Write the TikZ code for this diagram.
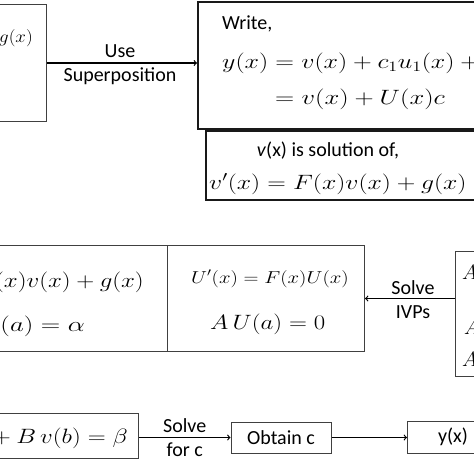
\documentclass[tikz,border=0pt]{standalone}
\usepackage{fontspec}
\setmainfont{Carlito}
\usetikzlibrary{positioning}
\newcommand{\wide}[2]{\scalebox{#1}[1]{#2}}
\tikzset{
	box/.style={draw=black!75, line width=1pt, rectangle, inner sep=0pt},
	boldbox/.style={box, draw=black!90, line width=1.8pt},
	txt/.style={inner sep=0pt, font=\fontsize{20}{24}\selectfont},
	eq/.style={inner sep=0pt, font=\fontsize{22}{26}\selectfont},
	smalleq/.style={inner sep=0pt, font=\fontsize{18}{22}\selectfont},
	lbl/.style={align=center, inner sep=0pt, font=\fontsize{20}{24}\selectfont},
	arr/.style={->, line width=1.2pt},
}
\begin{document}
\begin{tikzpicture}[x=1pt, y=-1pt]
	\useasboundingbox (0,0) rectangle (474,474);
	\clip (0,0) rectangle (474,474);
	
	\node[box, minimum width=250pt, minimum height=117pt, anchor=north east] (ode) at (47,4) {};
	\node[smalleq, anchor=base east] (odeeq) at (33,42) {\wide{1.1}{$y'(x)=F(x)y(x)+g(x)$}};
	
	\node[boldbox, minimum width=330pt, minimum height=127pt, anchor=north west] (write) at (197,1) {};
	\node[txt, anchor=base west] (writetxt) at (222,29) {Write,};
	\node[eq, anchor=base west] (yline) at (222,68) {\wide{1.25}{$y(x)=v(x)+c_1u_1(x)+\cdots+c_nu_n(x)$}};
	\node[eq, anchor=base west] (yline2) at (275,104) {\wide{1.28}{$=v(x)+U(x)c$}};
	
	\node[boldbox, minimum width=300pt, minimum height=69pt, anchor=north west] (vsol) at (205,130) {};
	\node[txt, anchor=base] (vsoltxt) at (328,156) {\textit{v}(x) is solution of,};
	\node[eq, anchor=base west] (vsoleq) at (209,189) {\wide{1.24}{$v'(x)=F(x)v(x)+g(x)$}};
	
	\node[box, minimum width=565pt, minimum height=106pt, anchor=north east] (cells) at (365,245) {};
	\coordinate (split) at (167,0);
	\draw[black!75, line width=1pt] (cells.north -| split) -- (cells.south -| split);
	\node[eq, anchor=base east] (veq) at (144,287) {\wide{1.2}{$v'(x)=F(x)v(x)+g(x)$}};
	\node[eq, anchor=base east] (vbc) at (85,331) {\wide{1.3}{$A\,v(a)=\alpha$}};
	\node[smalleq, anchor=base west] (ueq) at (191,283) {\wide{1.2}{$U'(x)=F(x)U(x)$}};
	\node[eq, anchor=base west] (ubc) at (210,329) {\wide{1.2}{$A\,U(a)=0$}};
	
	\node[box, minimum width=150pt, minimum height=125pt, anchor=north west] (ivp) at (455,251) {};
	\node[eq, anchor=base west] (ivp1) at (462,279) {$A\,u_1(a)=e_1$};
	\node[eq, anchor=base west] (ivp2) at (464,334) {$A\,u_{n-1}(a)=e_{n-1}$};
	\node[eq, anchor=base west] (ivp3) at (462,366) {$A\,u_n(a)=e_n$};
	
	\node[box, minimum width=340pt, minimum height=45pt, anchor=north east] (cond) at (139,413) {};
	\node[eq, anchor=base east] (condeq) at (128,443) {\wide{1.2}{$\alpha+B\,U(b)\,c+B\,v(b)=\beta$}};
	
	\node[box, txt, minimum width=100pt, minimum height=31pt] (obtain) at (281,437.5) {Obtain c};
	\node[box, minimum width=92pt, minimum height=32pt, anchor=north west] (yx) at (407,421) {};
	\node[txt] (yxtxt) at (453,437) {y(x)};
	
	\draw[arr] (ode.east |- 0,63) -- (write.west |- 0,63) node[lbl, midway, xshift=-2pt, yshift=-2pt] {Use\\Superposition};
	\draw[arr] (ivp.west |- cells.east) -- (cells.east) node[lbl, midway, xshift=3pt, yshift=-1pt] {Solve\\IVPs};
	\draw[arr] (cond.east |- obtain.west) -- (obtain.west) node[lbl, midway] {Solve\\for c};
	\draw[arr] (obtain.east) -- (yx.west |- obtain.east);
\end{tikzpicture}
\end{document}
